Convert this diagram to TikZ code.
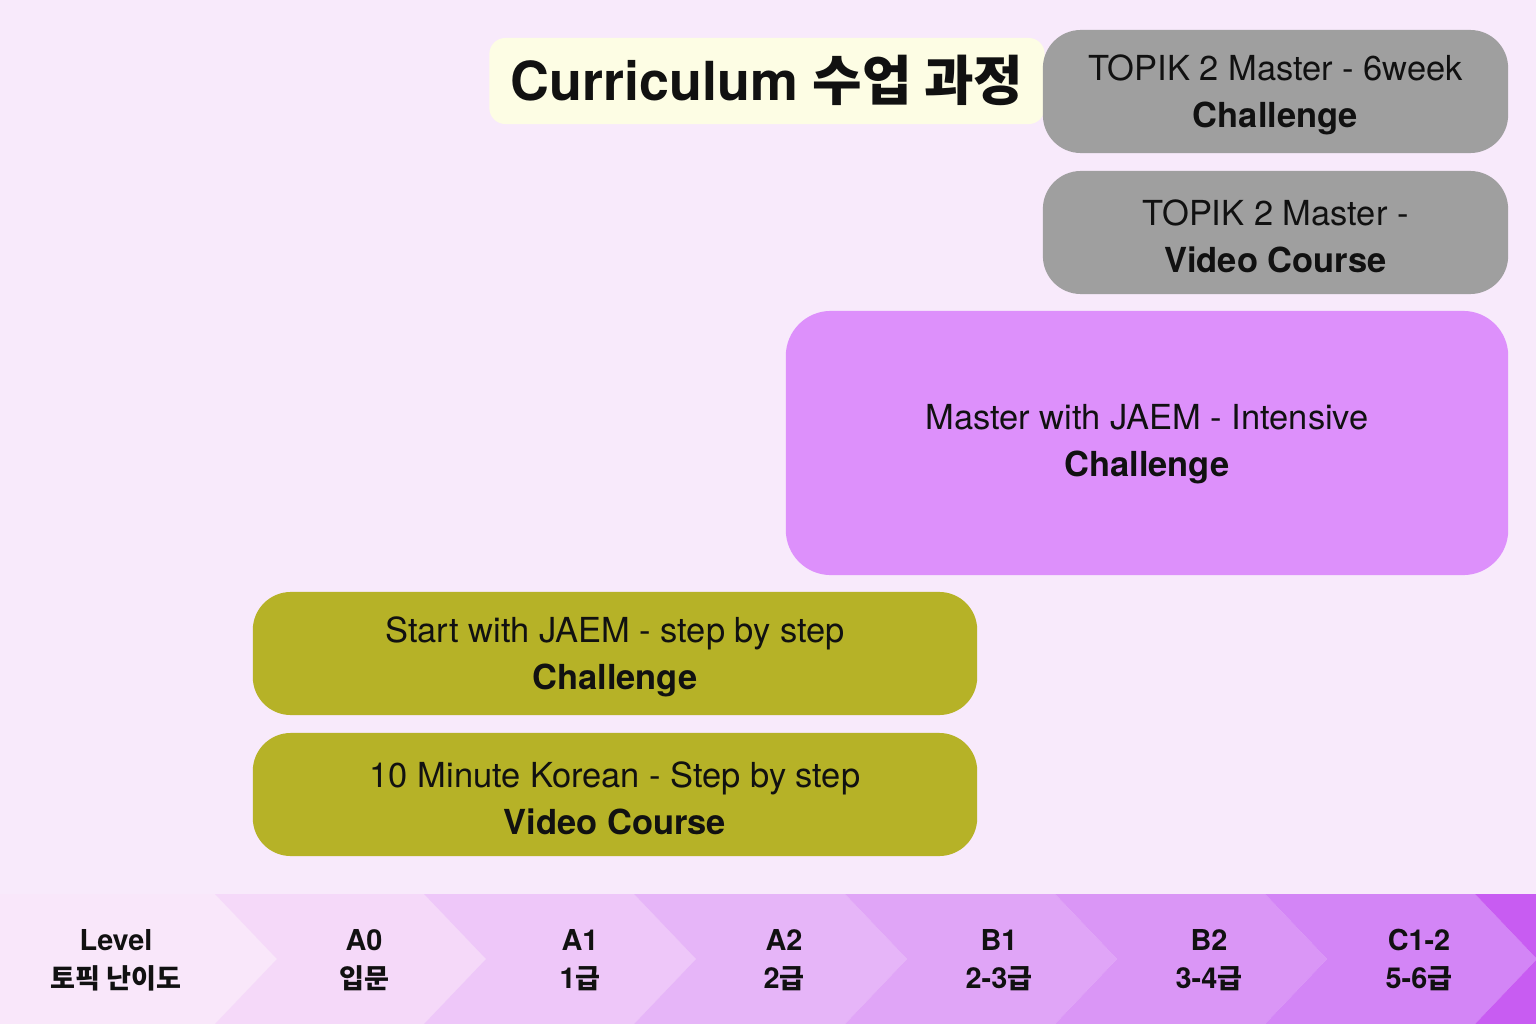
\documentclass[tikz,border=0pt]{standalone}
\usepackage{fontspec}
\setmainfont{TeX Gyre Heros}
\newfontfamily\kr{Noto Sans CJK KR}[Scale=0.94]
\newfontfamily\krt{Noto Sans CJK KR}
\definecolor{bgc}{HTML}{F8EAFB}
\definecolor{titlefill}{HTML}{FDFDE4}
\definecolor{grayfill}{HTML}{9F9F9F}
\definecolor{purplefill}{HTML}{DD90FB}
\definecolor{olivefill}{HTML}{B6B227}
\definecolor{txt}{HTML}{111111}
\definecolor{c0}{HTML}{F9E7FA}
\definecolor{c1}{HTML}{F5D9F9}
\definecolor{c2}{HTML}{EEC7F9}
\definecolor{c3}{HTML}{E6B5F8}
\definecolor{c4}{HTML}{E0A5F7}
\definecolor{c5}{HTML}{DA96F6}
\definecolor{c6}{HTML}{D385F6}
\definecolor{c7}{HTML}{C85CF2}
\tikzset{
  course/.style={rectangle, rounded corners=0.38cm, inner sep=0pt},
  coursetext/.style={align=center, inner sep=0pt, text=txt,
    font=\fontsize{9.8}{13.4}\selectfont},
  levellabel/.style={align=center, text=txt, inner sep=0pt,
    font=\fontsize{8.2}{10.8}\selectfont\bfseries},
}
\begin{document}
\begin{tikzpicture}[x=0.01cm,y=-0.01cm]
\fill[bgc] (0,0) rectangle (1536,1024);
\useasboundingbox (0,0) rectangle (1536,1024);

% level band
\fill[c0] (0,894) -- (215,894) -- (277,959) -- (215,1024) -- (0,1024) -- cycle;
\foreach \a/\b/\c in {215/424/c1, 424/634/c2, 634/845/c3, 845/1055/c4, 1055/1265/c5, 1265/1475/c6}{
  \fill[\c] (\a,894) -- (\b,894) -- (\b+62,959) -- (\b,1024) -- (\a,1024) -- (\a+62,959) -- cycle;
}
\fill[c7] (1475,894) -- (1536,894) -- (1536,1024) -- (1475,1024) -- (1537,959) -- cycle;

\node[levellabel] (lv) at (116,960) {Level\\{\kr\bfseries 토픽 난이도}};
\node[levellabel] (a0) at (364,960) {A0\\{\kr\bfseries 입문}};
\node[levellabel] (a1) at (580,960) {A1\\1{\kr\bfseries 급}};
\node[levellabel] (a2) at (784,960) {A2\\2{\kr\bfseries 급}};
\node[levellabel] (b1) at (999,960) {B1\\2-3{\kr\bfseries 급}};
\node[levellabel] (b2) at (1209,960) {B2\\3-4{\kr\bfseries 급}};
\node[levellabel] (c12) at (1419,960) {C1-2\\5-6{\kr\bfseries 급}};

% title
\node[rectangle, rounded corners=0.16cm, fill=titlefill, inner sep=0pt,
  minimum width=5.55cm, minimum height=0.86cm] (title) at (767,81) {};
\node[text=txt, inner sep=0pt, font=\fontsize{15.3}{20}\selectfont\bfseries] (titletext)
  at ([yshift=0.01cm]title.center) {Curriculum {\krt\bfseries 수업 과정}};

% courses
\node[course, fill=grayfill, minimum width=4.65cm, minimum height=1.23cm] (t6) at (1275.5,91.5) {};
\node[coursetext] (t6t) at ([yshift=-0.035cm]t6.center) {TOPIK 2 Master - 6week\\\textbf{Challenge}};
\node[course, fill=grayfill, minimum width=4.65cm, minimum height=1.23cm] (tv) at (1275.5,232.5) {};
\node[coursetext] (tvt) at ([yshift=-0.035cm]tv.center) {TOPIK 2 Master -\\\textbf{Video Course}};
\node[course, fill=purplefill, rounded corners=0.45cm, minimum width=7.22cm, minimum height=2.64cm] (mj) at (1147,443) {};
\node[coursetext] (mjt) at ([yshift=-0.01cm]mj.center) {Master with JAEM - Intensive\\\textbf{Challenge}};
\node[course, fill=olivefill, minimum width=7.24cm, minimum height=1.23cm] (sj) at (615,653.5) {};
\node[coursetext] (sjt) at ([yshift=-0.035cm]sj.center) {Start with JAEM - step by step\\\textbf{Challenge}};
\node[course, fill=olivefill, minimum width=7.24cm, minimum height=1.23cm] (tm) at (615,794.5) {};
\node[coursetext] (tmt) at ([yshift=-0.035cm]tm.center) {10 Minute Korean - Step by step\\\textbf{Video Course}};
\end{tikzpicture}
\end{document}
